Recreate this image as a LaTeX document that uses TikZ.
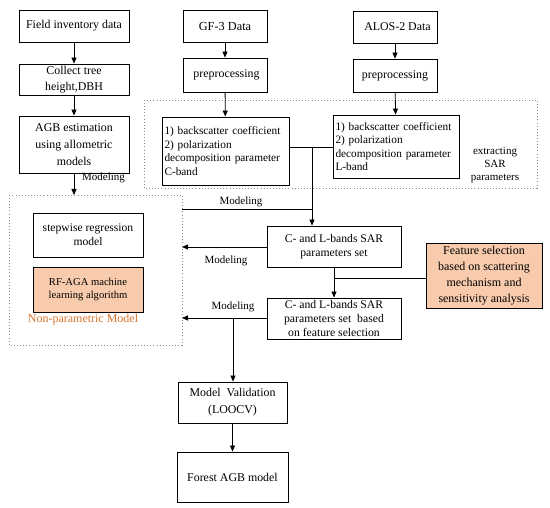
\documentclass[tikz,border=0pt]{standalone}
\usepackage{fontspec}
\setmainfont{Liberation Serif}
\usetikzlibrary{arrows.meta}
\definecolor{orfill}{HTML}{F8CBAD}
\definecolor{ortext}{HTML}{D9732E}
\definecolor{dotc}{HTML}{7F8FA9}
\begin{document}
\begin{tikzpicture}[x=1pt,y=-1pt,
  box/.style={draw=black,line width=0.9pt,inner sep=2pt,align=center,font=\fontsize{11.9}{16}\selectfont},
  lbox/.style={draw=black,line width=0.9pt,inner sep=2.5pt,align=left,font=\fontsize{11.3}{13.4}\selectfont},
  obox/.style={box,fill=orfill},
  arr/.style={-{Triangle[length=6pt,width=5pt]},line width=0.8pt},
  ln/.style={line width=0.8pt},
  dotbox/.style={draw=dotc,line width=0.9pt,dash pattern=on 0.9pt off 2.2pt},
  lab/.style={font=\fontsize{11}{13}\selectfont,inner sep=1pt}]
\useasboundingbox (0,0) rectangle (550,508);
\fill[white] (0,0) rectangle (550,508);
% dotted groups
\draw[dotbox] (144,100) rectangle (537,188);
\draw[dotbox] (9,195) rectangle (182,345);
% left column
\node[box,minimum width=110pt,minimum height=32pt] (field) at (74,26) {Field inventory data};
\node[box,minimum width=110pt,minimum height=31pt,font=\fontsize{11.9}{15.5}\selectfont] (collect) at (74,79.5) {Collect tree\\height,DBH};
\node[box,minimum width=110pt,minimum height=57pt,font=\fontsize{11.9}{17.3}\selectfont] (agb) at (74,144.5) {AGB estimation\\using allometric\\models};
% GF-3 column
\node[box,minimum width=84pt,minimum height=32pt,font=\fontsize{12.3}{15}\selectfont] (gf) at (225,26) {GF-3 Data};
\node[box,minimum width=84pt,minimum height=34pt] (gfpre) at (225,75) {\hspace*{3pt}preprocessing};
% ALOS column
\node[box,minimum width=84pt,minimum height=32pt] (alos) at (395,27) {\hspace*{5pt}ALOS-2 Data};
\node[box,minimum width=84pt,minimum height=33pt] (alpre) at (395,75.5) {preprocessing};
% SAR boxes
\node[lbox,minimum width=127pt,minimum height=68pt,text width=122pt] (cband) at (225.5,151) {1) backscatter coefficient\\2) polarization\\decomposition parameter\\C-band};
\node[lbox,minimum width=126pt,minimum height=63pt,text width=121pt] (lband) at (396,146.5) {1) backscatter coefficient\\2) polarization\\decomposition parameter\\L-band};
\node[lab,align=center,font=\fontsize{11}{12.8}\selectfont] (extr) at (495,165) {extracting\\SAR\\parameters};
% sets
\node[box,minimum width=134pt,minimum height=41pt,font=\fontsize{11.7}{14}\selectfont] (set) at (334,246.5) {C- and L-bands SAR\\parameters set};
\node[obox,minimum width=116pt,minimum height=65pt,font=\fontsize{12}{15.8}\selectfont] (feat) at (484,275.5) {Feature selection\\based on scattering\\mechanism and\\sensitivity analysis};
\node[box,minimum width=134pt,minimum height=41pt,font=\fontsize{11.7}{14}\selectfont] (fset) at (334,318.5) {C- and L-bands SAR\\parameters set \ based\\on feature selection};
% models
\node[box,minimum width=110pt,minimum height=44pt,font=\fontsize{11.6}{14}\selectfont] (step) at (88,235) {stepwise regression\\model};
\node[obox,minimum width=110pt,minimum height=45pt,font=\fontsize{10.6}{13}\selectfont] (rf) at (88,289.5) {RF-AGA machine\\learning algorithm};
\node[lab,text=ortext,font=\fontsize{12}{13}\selectfont] (np) at (83,320) {Non-parametric Model};
% validation
\node[box,minimum width=109pt,minimum height=41pt,font=\fontsize{11.9}{17}\selectfont] (val) at (232.5,402.5) {Model \ Validation\\(LOOCV)};
\node[box,minimum width=111pt,minimum height=50pt] (forest) at (232.5,477) {Forest AGB model};
% coordinates
\coordinate (dtop) at (74,195);
\coordinate (dR1) at (182,209);
\coordinate (dR2) at (182,247);
\coordinate (dR3) at (182,318);
\coordinate (j1) at (312,147);
\coordinate (j1m) at (312,209);
\coordinate (j2) at (334,278);
\coordinate (j3) at (233,318);
% arrows
\draw[arr] (field) -- (collect);
\draw[arr] (collect) -- (agb);
\draw[arr] (agb) -- (dtop);
\node[lab,anchor=west] (m0) at (81,178) {Modeling};
\draw[arr] (gf) -- (gfpre);
\draw[arr] (gfpre) -- (cband);
\draw[arr] (alos) -- (alpre);
\draw[arr] (alpre) -- (lband);
\draw[ln] (cband.east |- j1) -- (lband.west |- j1);
\draw[arr] (j1) -- (set.north -| j1);
\draw[ln] (dR1) -- (j1m);
\node[lab] (m1) at (241,202) {Modeling};
\draw[arr] (set.west |- dR2) -- (dR2);
\node[lab] (m2) at (226,261) {Modeling};
\draw[arr] (set.south -| j2) -- (fset.north -| j2);
\draw[ln] (feat.west |- j2) -- (j2);
\draw[arr] (fset.west |- dR3) -- (dR3);
\node[lab] (m3) at (233,307) {Modeling};
\draw[arr] (j3) -- (val.north -| j3);
\draw[arr] (val) -- (forest);
\end{tikzpicture}
\end{document}
